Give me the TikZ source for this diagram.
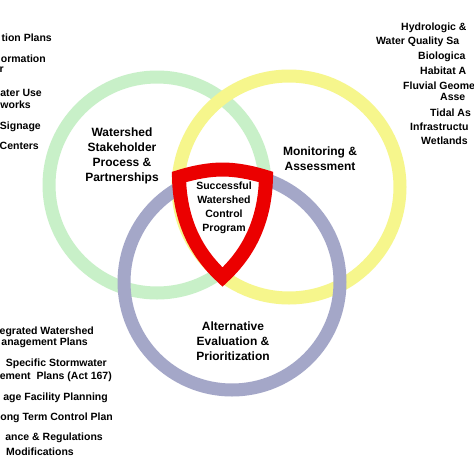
\documentclass[tikz,border=0pt]{standalone}
\usepackage{fontspec}
\setmainfont{Liberation Sans}
\usetikzlibrary{positioning}
\definecolor{ringgreen}{RGB}{200,240,200}
\definecolor{ringyellow}{RGB}{246,246,140}
\definecolor{ringblue}{RGB}{164,167,200}
\definecolor{shieldred}{RGB}{235,0,0}

\begin{document}
\begin{tikzpicture}[line cap=round,line join=round,x=1pt,y=-1pt,
  ring/.style={line width=13pt},
  main/.style={font=\fontsize{12}{14.8}\selectfont\bfseries,align=center,inner sep=0pt},
  item/.style={font=\fontsize{10.5}{12}\selectfont\bfseries,inner sep=0pt}]
\useasboundingbox[fill=white] (0,0) rectangle (474,474);
% the three rings
\draw[ring,ringgreen] (157,185) circle (108pt);
\draw[ring,ringyellow] (289,187) circle (111pt);
\draw[ring,ringblue] (232,282) circle (108pt);
% shield in the middle
\draw[shieldred,line width=14pt,line join=miter,fill=white] (222.5,277)
  .. controls (204,260) and (180,230) .. (179,177)
  .. controls (195,172) and (210,169.5) .. (222.5,169.5)
  .. controls (235,169.5) and (250,172) .. (266,177)
  .. controls (265,230) and (241,260) .. cycle;
\node[main,font=\fontsize{10.5}{14}\selectfont\bfseries] (goal) at (224,208) {Successful\\Watershed\\Control\\Program};
\node[main] (stake) at (122,156) {Watershed\\Stakeholder\\Process \&\\Partnerships};
\node[main] (monit) at (320,159) {Monitoring \&\\Assessment};
\node[main] (altern) at (233,341) {Alternative\\Evaluation \&\\Prioritization};
% left list, top
\node[item,anchor=east] (l1) at (52,38) {tion Plans};
\node[item,anchor=east] (l2) at (46,59) {ormation};
\node[item,anchor=east] (l2b) at (4,70) {r};
\node[item,anchor=east] (l3) at (42,93) {ater Use};
\node[item,anchor=east] (l3b) at (31,105) {works};
\node[item,anchor=east] (l4) at (41,127) {Signage};
\node[item,anchor=east] (l5) at (39,146) {Centers};
% left list, bottom
\node[item,anchor=east] (b1) at (94,332) {egrated Watershed};
\node[item,anchor=east] (b1b) at (88,343) {anagement Plans};
\node[item,anchor=east] (b2) at (107,364) {Specific Stormwater};
\node[item,anchor=east] (b2b) at (112,377) {ement\ \ Plans (Act 167)};
\node[item,anchor=east] (b3) at (108,398) {age Facility Planning};
\node[item,anchor=east] (b4) at (113,418) {ong Term Control Plan};
\node[item,anchor=east] (b5) at (103,438) {ance \& Regulations};
\node[item,anchor=east] (b5b) at (74,452) {Modifications};
% right list
\node[item,anchor=west] (r1) at (401,28) {Hydrologic \&};
\node[item,anchor=west] (r2) at (376,42) {Water Quality Sa};
\node[item,anchor=west] (r3) at (418,57) {Biologica};
\node[item,anchor=west] (r4) at (420,71) {Habitat A};
\node[item,anchor=west] (r5) at (403,86) {Fluvial Geome};
\node[item,anchor=west] (r5b) at (440,97) {Asse};
\node[item,anchor=west] (r6) at (430,113) {Tidal As};
\node[item,anchor=west] (r7) at (410,127) {Infrastructu};
\node[item,anchor=west] (r8) at (421,141) {Wetlands};
\end{tikzpicture}
\end{document}
